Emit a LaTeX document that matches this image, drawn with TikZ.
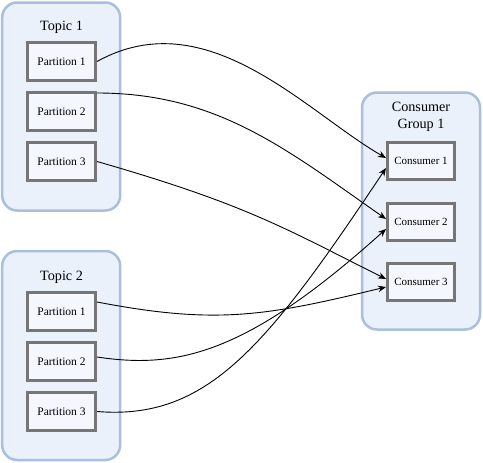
\documentclass[tikz,border=0pt]{standalone}
\usepackage{fontspec}
\setmainfont{Liberation Serif}
\usetikzlibrary{arrows.meta,calc}

\definecolor{group fill color}{HTML}{EAF1FB}
\definecolor{group border color}{HTML}{A9BFDD}
\definecolor{box fill color}{HTML}{F4F7FD}
\definecolor{box border color}{HTML}{767676}
\tikzset{
    x={1pt},
    y={-1pt},
    group box/.style={
        rectangle, rounded corners={15pt},
        fill=group fill color,
        draw=group border color,
        line width={2.5pt},
        minimum width={118},
        minimum height={#1},
        inner sep=0pt,
    },
    group box/.default={208},
    group label/.style={
        font={\fontsize{14.2}{17}\selectfont},
        align=center,
        inner sep=0pt,
    },
    member box/.style={
        rectangle,
        fill=box fill color,
        draw=box border color,
        line width={3pt},
        minimum width={#1},
        minimum height={38},
        inner sep=0pt,
    },
    partition/.style={
        member box={68},
        font={\fontsize{11.5}{13}\selectfont},
    },
    consumer/.style={
        member box={67},
        minimum height={37},
        font={\fontsize{11}{13}\selectfont},
    },
    link/.style={
        draw=black,
        line width={0.9pt},
        -{Stealth[length=8pt,width=6.5pt]},
    },
}

\begin{document}
\begin{tikzpicture}
\useasboundingbox (0,0) rectangle (483,463);
% groups
\node[group box={208}] (topic1) at (61.2,106.5) {};
\node[group box={209}] (topic2) at (61.2,355.5) {};
\node[group box={237}] (group1) at (421,211) {};
\node[group label] (topic1 label) at (61.5,27) {Topic 1};
\node[group label] (topic2 label) at (61.5,277.5) {Topic 2};
\node[group label] (group1 label) at (421,116.5) {Consumer\\Group 1};
% partitions
\node[partition] (p11) at (61.5,61.5) {Partition 1};
\node[partition] (p12) at (61.5,111.5) {Partition 2};
\node[partition] (p13) at (61.5,161.5) {Partition 3};
\node[partition] (p21) at (61.5,311.5) {Partition 1};
\node[partition] (p22) at (61.5,361.5) {Partition 2};
\node[partition] (p23) at (61.5,411.5) {Partition 3};
% consumers
\node[consumer] (c1) at (421,161) {Consumer 1};
\node[consumer] (c2) at (421,222) {Consumer 2};
\node[consumer] (c3) at (421,282) {Consumer 3};
% links
\draw[link] (p11.east) .. controls +(110,-61) and +(-80,-46) .. ($(c1.west)+(0,-3)$);
\draw[link] ($(p12.east)+(0,-18.5)$) .. controls +(120,0) and +(-100,-70) .. ($(c2.west)+(0,-3)$);
\draw[link] (p13.east) .. controls +(150,43) and +(-100,-50) .. ($(c3.west)+(0,-3)$);
\draw[link] ($(p21.east)+(0,-9.5)$) .. controls +(120,23) and +(-120,29) .. ($(c3.west)+(0,5)$);
\draw[link] ($(p22.east)+(0,-4.5)$) .. controls +(80,12) and +(-140,126) .. ($(c2.west)+(0,7)$);
\draw[link] (p23.east) .. controls +(110,9) and +(-120,180) .. ($(c1.west)+(0,7)$);
\end{tikzpicture}
\end{document}
